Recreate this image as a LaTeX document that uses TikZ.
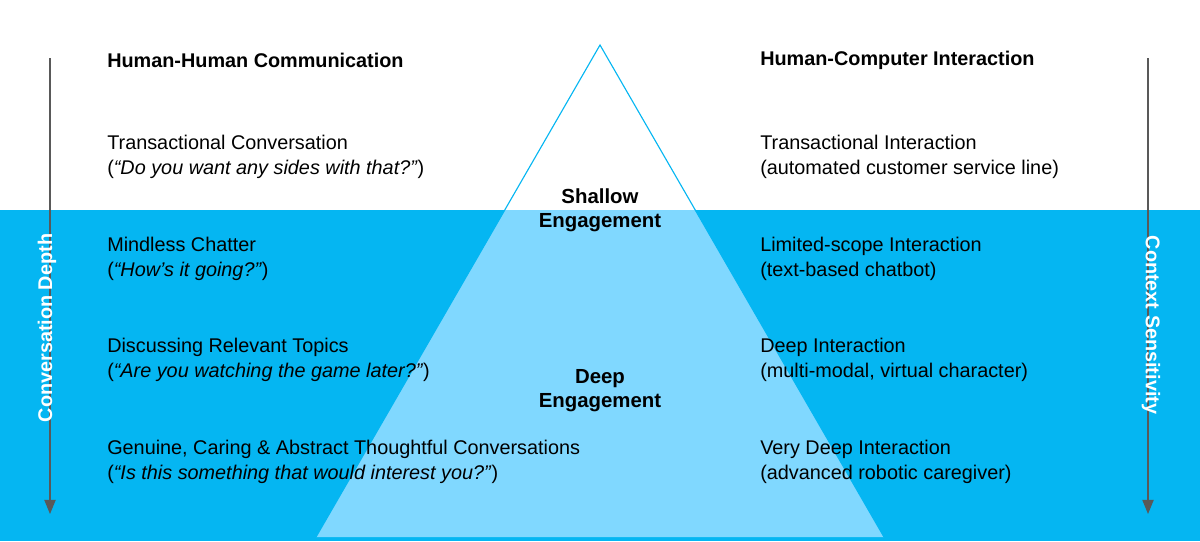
\documentclass[tikz,border=0pt]{standalone}
\usepackage{fontspec}
\setmainfont{Liberation Sans}
\usetikzlibrary{arrows.meta}
\usetikzlibrary{positioning}
\definecolor{water}{HTML}{05B6F2}
\definecolor{ice}{HTML}{80D8FF}
\definecolor{axisgray}{HTML}{595959}
\tikzset{
  lbl/.style={anchor=west,align=left,inner sep=0pt,font=\fontsize{14.1}{17.9}\selectfont},
  head/.style={anchor=west,inner sep=0pt,font=\fontsize{14.1}{16}\selectfont\bfseries},
  axis/.style={draw=axisgray,thick,-{Triangle[length=10pt,width=8pt]}},
  axislbl/.style={text=white,font=\fontsize{14.1}{16}\selectfont\bfseries},
  eng/.style={align=center,font=\fontsize{14.5}{17}\selectfont\bfseries}
}
\begin{document}
\begin{tikzpicture}[x=0.025cm,y=-0.025cm]
    \useasboundingbox (0,0) rectangle (1200,541);
    % water and iceberg
    \fill[water] (0,210) rectangle (1200,541);
    \fill[white] (600,45) -- (505,210) -- (695,210) -- cycle;
    \fill[ice] (505,210) -- (316,537) -- (884,537) -- (695,210) -- cycle;
    \draw[water,thick] (316,537) -- (600,45) -- (884,537);
    % axes
    \coordinate (lt) at (50,58);
    \coordinate (lb) at (50,514);
    \coordinate (rt) at (1148,58);
    \coordinate (rb) at (1148,514);
    \draw[axis] (lt) -- (lb);
    \draw[axis] (rt) -- (rb);
    \node[axislbl,rotate=90] (cd) at (47,328) {Conversation Depth};
    \node[axislbl,rotate=-90] (cs) at (1151,325) {Context Sensitivity};
    % headings
    \node[head] (hh) at (107,60) {Human-Human Communication};
    \node[head] (hc) at (760,60) {Human-Computer Interaction};
    % left column
    \node[lbl] (l1) at (107,157) {Transactional Conversation\\(\textit{“Do you want any sides with that?”})};
    \node[lbl] (l2) at (107,259) {Mindless Chatter\\(\textit{“How’s it going?”})};
    \node[lbl] (l3) at (107,360) {Discussing Relevant Topics\\(\textit{“Are you watching the game later?”})};
    \node[lbl] (l4) at (107,462) {Genuine, Caring \& Abstract Thoughtful Conversations\\(\textit{“Is this something that would interest you?”})};
    % right column
    \node[lbl] (r1) at (760,157) {Transactional Interaction\\(automated customer service line)};
    \node[lbl] (r2) at (760,259) {Limited-scope Interaction\\(text-based chatbot)};
    \node[lbl] (r3) at (760,360) {Deep Interaction\\(multi-modal, virtual character)};
    \node[lbl] (r4) at (760,462) {Very Deep Interaction\\(advanced robotic caregiver)};
    % engagement
    \node[eng] (se) at (600,210) {Shallow\\Engagement};
    \node[eng] (de) at (600,391) {Deep\\Engagement};
\end{tikzpicture}
\end{document}
